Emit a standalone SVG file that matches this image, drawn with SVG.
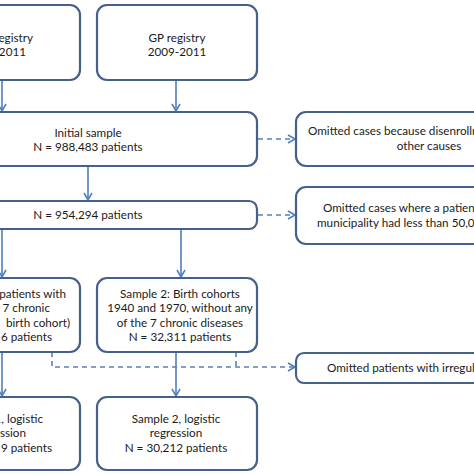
<svg xmlns="http://www.w3.org/2000/svg" width="474" height="474" viewBox="0 0 474 474">
  <defs>
    <marker id="arr" markerWidth="10" markerHeight="10" refX="8" refY="5" orient="auto" markerUnits="userSpaceOnUse">
      <path d="M1,1 L8,5 L1,9" fill="none" stroke="#4f7fbf" stroke-width="1.6"/>
    </marker>
    <style>
      .box { fill: #ffffff; stroke: #45608a; stroke-width: 2.2; }
      .t { font-family: Lato, "Liberation Sans", sans-serif; font-size: 11.7px; fill: #1a1a1a; }
      .m { text-anchor: middle; }
      .e { text-anchor: end; }
      .s { text-anchor: start; }
      .ln { fill: none; stroke: #4f7fbf; stroke-width: 1.6; }
      .dl { fill: none; stroke: #5b80b8; stroke-width: 1.6; stroke-dasharray: 5 4; }
    </style>
  </defs>
  <rect width="474" height="474" fill="#ffffff"/>

  <g id="connectors">
    <line class="ln" x1="2" y1="80" x2="2" y2="111" marker-end="url(#arr)"/>
    <line class="ln" x1="176" y1="80" x2="176" y2="111" marker-end="url(#arr)"/>
    <line class="dl" x1="258" y1="139" x2="295" y2="139" marker-end="url(#arr)"/>
    <line class="ln" x1="88" y1="166" x2="88" y2="200" marker-end="url(#arr)"/>
    <line class="dl" x1="258" y1="215" x2="295" y2="215" marker-end="url(#arr)"/>
    <line class="ln" x1="2" y1="229" x2="2" y2="277" marker-end="url(#arr)"/>
    <line class="ln" x1="181" y1="229" x2="181" y2="277" marker-end="url(#arr)"/>
    <polyline class="dl" points="52,352 52,367 295,367" marker-end="url(#arr)"/>
    <line class="dl" x1="236" y1="352" x2="236" y2="367"/>
    <line class="ln" x1="2" y1="352" x2="2" y2="396" marker-end="url(#arr)"/>
    <line class="ln" x1="176" y1="352" x2="176" y2="396" marker-end="url(#arr)"/>
  </g>

  <g id="registry-left">
    <rect class="box" x="-80" y="5" width="160" height="75" rx="10"/>
    <text class="t e" x="33" y="42">registry</text>
    <text class="t e" x="26" y="56">-2011</text>
  </g>
  <g id="gp-registry">
    <rect class="box" x="97" y="5" width="160" height="75" rx="10"/>
    <text class="t m" x="177" y="42">GP registry</text>
    <text class="t m" x="177" y="56">2009-2011</text>
  </g>
  <g id="initial-sample">
    <rect class="box" x="-80" y="112" width="337" height="54" rx="10"/>
    <text class="t m" x="88" y="137">Initial sample</text>
    <text class="t m" x="88" y="151">N = 988,483 patients</text>
  </g>
  <g id="omitted-disenrollment">
    <rect class="box" x="296" y="112" width="266" height="54" rx="10"/>
    <text class="t s" x="308" y="135">Omitted cases because disenrollm</text>
    <text class="t m" x="429" y="150">other causes</text>
  </g>
  <g id="n954">
    <rect class="box" x="-80" y="201" width="337" height="28" rx="8"/>
    <text class="t m" x="88" y="219">N = 954,294 patients</text>
  </g>
  <g id="omitted-municipality">
    <rect class="box" x="296" y="187" width="266" height="57" rx="10"/>
    <text class="t s" x="323" y="212">Omitted cases where a patient</text>
    <text class="t s" x="317" y="227">municipality had less than 50,00</text>
  </g>
  <g id="sample1">
    <rect class="box" x="-80" y="278" width="160" height="74" rx="10"/>
    <text class="t e" x="66" y="298">patients with</text>
    <text class="t e" x="50" y="312">7 chronic</text>
    <text class="t e" x="70" y="327">birth cohort)</text>
    <text class="t e" x="52" y="341">6 patients</text>
  </g>
  <g id="sample2">
    <rect class="box" x="97" y="278" width="160" height="74" rx="10"/>
    <text class="t m" x="180" y="298">Sample 2: Birth cohorts</text>
    <text class="t m" x="180" y="312">1940 and 1970, without any</text>
    <text class="t m" x="180" y="327">of the 7 chronic diseases</text>
    <text class="t m" x="180" y="341">N = 32,311 patients</text>
  </g>
  <g id="omitted-irregular">
    <rect class="box" x="296" y="353" width="266" height="30" rx="8"/>
    <text class="t s" x="327" y="372">Omitted patients with irregula</text>
  </g>
  <g id="sample1-regression">
    <rect class="box" x="-80" y="397" width="160" height="73" rx="10"/>
    <text class="t e" x="43" y="423">1, logistic</text>
    <text class="t e" x="26" y="437">ssion</text>
    <text class="t e" x="52" y="452">9 patients</text>
  </g>
  <g id="sample2-regression">
    <rect class="box" x="97" y="397" width="160" height="73" rx="10"/>
    <text class="t m" x="176" y="423">Sample 2, logistic</text>
    <text class="t m" x="176" y="437">regression</text>
    <text class="t m" x="176" y="452">N = 30,212 patients</text>
  </g>
</svg>
